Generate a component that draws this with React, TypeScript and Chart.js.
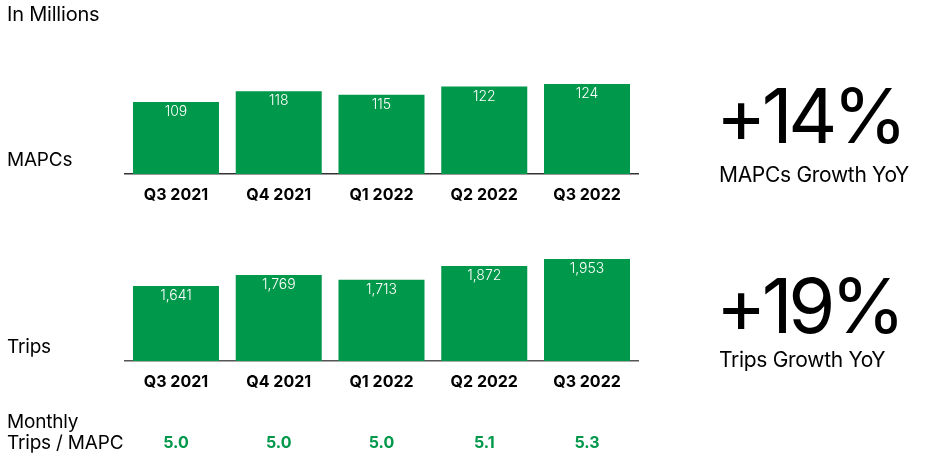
import React, { useEffect, useRef } from "react";
import { Chart, registerables } from "chart.js";

Chart.register(...registerables);

const categories = ["Q3 2021", "Q4 2021", "Q1 2022", "Q2 2022", "Q3 2022"];
const mapcs = [109, 118, 115, 122, 124];
const trips = [1641, 1769, 1713, 1872, 1953];
const tripsPerMapc = ["5.0", "5.0", "5.0", "5.1", "5.3"];
const mapcsGrowth = "+14%";
const tripsGrowth = "+19%";

const GREEN = "#00984A";
const FONT = "Inter, 'Noto Sans', sans-serif";

const valueLabelPlugin = {
  id: "valueLabels",
  afterDatasetsDraw(chart: any) {
    const ctx = chart.ctx;
    const meta = chart.getDatasetMeta(0);
    const data = chart.data.datasets[0].data;
    ctx.save();
    ctx.fillStyle = "#ffffff";
    ctx.font = `300 14px ${FONT}`;
    ctx.textAlign = "center";
    ctx.textBaseline = "middle";
    meta.data.forEach((bar: any, i: number) => {
      ctx.fillText(Number(data[i]).toLocaleString("en-US"), bar.x, bar.y + 10);
    });
    ctx.restore();
  },
};

const ratioRowPlugin = {
  id: "ratioRow",
  afterDraw(chart: any) {
    const opts = chart.options.plugins.ratioRow;
    if (!opts || !opts.values) return;
    const ctx = chart.ctx;
    const xs = chart.scales.x;
    ctx.save();
    ctx.fillStyle = GREEN;
    ctx.font = `bold 16px ${FONT}`;
    ctx.textAlign = "center";
    ctx.textBaseline = "middle";
    opts.values.forEach((v: string, i: number) => {
      ctx.fillText(v, xs.getPixelForValue(i), opts.y);
    });
    ctx.restore();
  },
};

function makeConfig(values: number[], min: number, max: number, padTop: number, padBottom: number, axisColor: string, extra?: any) {
  return {
    type: "bar" as const,
    data: {
      labels: categories,
      datasets: [
        {
          data: values,
          backgroundColor: GREEN,
          borderWidth: 0,
          barPercentage: 0.837,
          categoryPercentage: 1,
        },
      ],
    },
    options: {
      responsive: false,
      animation: false as const,
      layout: { padding: { left: 124.6, right: 286.6, top: padTop, bottom: padBottom } },
      plugins: {
        legend: { display: false },
        tooltip: { enabled: false },
        ratioRow: extra || {},
      },
      scales: {
        x: {
          grid: { display: false, drawTicks: false },
          border: { display: true, color: axisColor, width: 1.5 },
          ticks: {
            padding: 12,
            color: "#000000",
            font: { family: FONT, size: 16, weight: "bold" },
          },
          afterFit: (s: any) => {
            s.height = 40;
          },
        },
        y: {
          display: false,
          min,
          max,
        },
      },
    },
    plugins: [valueLabelPlugin, ratioRowPlugin],
  };
}

export default function App() {
  const topRef = useRef<HTMLCanvasElement>(null);
  const botRef = useRef<HTMLCanvasElement>(null);

  useEffect(() => {
    const c1 = new Chart(topRef.current!, makeConfig(mapcs, 49, 140.67, 64, 0, "#333333") as any);
    const c2 = new Chart(
      botRef.current!,
      makeConfig(trips, 774, 2057, 30, 62, "#555555", { values: tripsPerMapc, y: 223 }) as any
    );
    return () => {
      c1.destroy();
      c2.destroy();
    };
  }, []);

  const txt = (s: any): React.CSSProperties => ({
    position: "absolute",
    fontFamily: FONT,
    color: "#000",
    lineHeight: 1,
    whiteSpace: "nowrap",
    ...s,
  });

  return (
    <div style={{ position: "absolute", left: 0, top: 0, width: 925, height: 463, background: "#fff", overflow: "hidden" }}>
      <canvas ref={topRef} width={925} height={214} style={{ position: "absolute", left: 0, top: 0, display: "block" }} />
      <canvas ref={botRef} width={925} height={243} style={{ position: "absolute", left: 0, top: 220, display: "block" }} />
      <div style={txt({ left: 7, top: 4, fontSize: 20, letterSpacing: -0.2 })}>In Millions</div>
      <div style={txt({ left: 7, top: 150, fontSize: 19, letterSpacing: -0.2 })}>MAPCs</div>
      <div style={txt({ left: 7, top: 337, fontSize: 19, letterSpacing: -0.2 })}>Trips</div>
      <div style={txt({ left: 7, top: 412, fontSize: 19, letterSpacing: -0.2 })}>Monthly</div>
      <div style={txt({ left: 7, top: 433, fontSize: 19, letterSpacing: -0.2 })}>Trips / MAPC</div>
      <div style={txt({ left: 716, top: 77, fontSize: 76, letterSpacing: -4.5 })}>{mapcsGrowth}</div>
      <div style={txt({ left: 719, top: 164, fontSize: 21, letterSpacing: -0.3 })}>MAPCs Growth YoY</div>
      <div style={txt({ left: 716, top: 267, fontSize: 76, letterSpacing: -4.5 })}>{tripsGrowth}</div>
      <div style={txt({ left: 719, top: 349, fontSize: 21, letterSpacing: -0.3 })}>Trips Growth YoY</div>
    </div>
  );
}
